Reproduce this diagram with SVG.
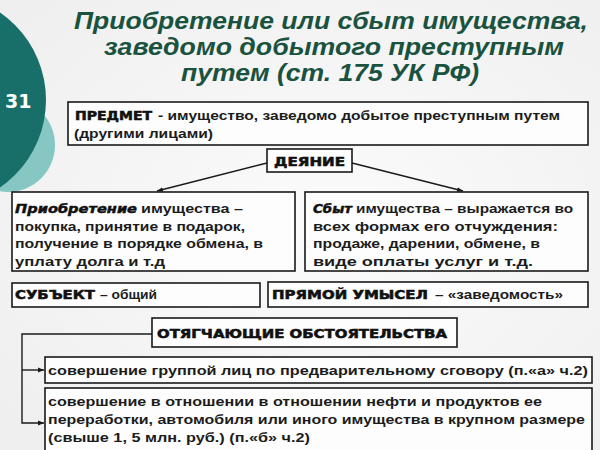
<svg xmlns="http://www.w3.org/2000/svg" width="600" height="450" viewBox="0 0 600 450">
<defs>
<radialGradient id="bg" cx="0.55" cy="0.5" r="0.7">
<stop offset="0" stop-color="#fbfbfb"/>
<stop offset="1" stop-color="#efefef"/>
</radialGradient>
<marker id="arr" viewBox="0 0 10 10" refX="10" refY="5" markerWidth="6" markerHeight="6" markerUnits="userSpaceOnUse" orient="auto">
<path d="M0,1 L10,5 L0,9 z" fill="#1a1a1a"/>
</marker>
<style>
.box{fill:#fdfdfd;stroke:#1a1a1a;stroke-width:1.6}
.t{font-family:"Liberation Sans",Arial,sans-serif;font-size:13px;font-weight:bold;fill:#1c1c1c}
.h{font-family:"DejaVu Sans",Verdana,sans-serif;font-size:13px;font-weight:bold;fill:#111;stroke:#111;stroke-width:0.6}
.hi{font-family:"DejaVu Sans",Verdana,sans-serif;font-size:13px;font-weight:bold;font-style:italic;fill:#111;stroke:#111;stroke-width:0.5}
.title{font-family:"Liberation Sans",Arial,sans-serif;font-size:23px;font-weight:bold;font-style:italic;fill:#1a5240}
.conn{stroke:#1a1a1a;stroke-width:1.4;fill:none}
</style>
</defs>
<rect x="0" y="0" width="600" height="450" fill="url(#bg)"/>
<g id="decor">
<circle cx="8" cy="145" r="47" fill="#86c7c3"/>
<circle cx="-60" cy="100" r="106" fill="#186f69"/>
<text x="5" y="108" font-family="DejaVu Sans,sans-serif" font-size="19" font-weight="bold" fill="#ffffff">31</text>
</g>
<g id="title">
<text class="title" x="331" y="29" text-anchor="middle" textLength="514" lengthAdjust="spacingAndGlyphs">Приобретение или сбыт имущества,</text>
<text class="title" x="334" y="55" text-anchor="middle" textLength="460" lengthAdjust="spacingAndGlyphs">заведомо добытого преступным</text>
<text class="title" x="330" y="81" text-anchor="middle" textLength="298" lengthAdjust="spacingAndGlyphs">путем (ст. 175 УК РФ)</text>
</g>
<g id="connectors">
<path class="conn" d="M267,163 L157,191" marker-end="url(#arr)"/>
<path class="conn" d="M352,163 L463,191" marker-end="url(#arr)"/>
<path class="conn" d="M152,334 H22 V423 H44" marker-end="url(#arr)"/>
<path class="conn" d="M22,370 H44" marker-end="url(#arr)"/>
</g>
<g id="predmet">
<rect class="box" x="68" y="102" width="520" height="43"/>
<text class="h" x="75" y="120" textLength="77" lengthAdjust="spacingAndGlyphs">ПРЕДМЕТ</text>
<text class="t" x="158" y="120" textLength="402" lengthAdjust="spacingAndGlyphs">- имущество, заведомо добытое преступным путем</text>
<text class="t" x="74" y="138" textLength="139" lengthAdjust="spacingAndGlyphs">(другими лицами)</text>
</g>
<g id="deyanie">
<rect class="box" x="267" y="149" width="85" height="23"/>
<text class="h" x="274" y="166" textLength="71" lengthAdjust="spacingAndGlyphs">ДЕЯНИЕ</text>
</g>
<g id="priobretenie">
<rect class="box" x="12" y="192" width="283" height="79"/>
<text class="hi" x="15" y="213" textLength="122" lengthAdjust="spacingAndGlyphs">Приобретение</text>
<text class="t" x="141" y="213" textLength="102" lengthAdjust="spacingAndGlyphs">имущества –</text>
<text class="t" x="15" y="231" textLength="230" lengthAdjust="spacingAndGlyphs">покупка, принятие в подарок,</text>
<text class="t" x="15" y="248" textLength="248" lengthAdjust="spacingAndGlyphs">получение в порядке обмена, в</text>
<text class="t" x="15" y="266" textLength="150" lengthAdjust="spacingAndGlyphs">уплату долга и т.д</text>
</g>
<g id="sbyt">
<rect class="box" x="305" y="192" width="283" height="79"/>
<text class="hi" x="313" y="213" textLength="39" lengthAdjust="spacingAndGlyphs">Сбыт</text>
<text class="t" x="356" y="213" textLength="217" lengthAdjust="spacingAndGlyphs">имущества – выражается во</text>
<text class="t" x="313" y="231" textLength="245" lengthAdjust="spacingAndGlyphs">всех формах его отчуждения:</text>
<text class="t" x="313" y="248" textLength="227" lengthAdjust="spacingAndGlyphs">продаже, дарении, обмене, в</text>
<text class="t" x="313" y="266" textLength="220" lengthAdjust="spacingAndGlyphs">виде оплаты услуг и т.д.</text>
</g>
<g id="subekt">
<rect class="box" x="12" y="283" width="248" height="24"/>
<text class="h" x="15" y="299" textLength="80" lengthAdjust="spacingAndGlyphs">СУБЪЕКТ</text>
<text class="t" x="100" y="299" textLength="57" lengthAdjust="spacingAndGlyphs">– общий</text>
</g>
<g id="umysel">
<rect class="box" x="268" y="282" width="320" height="25"/>
<text class="h" x="272" y="299" textLength="156" lengthAdjust="spacingAndGlyphs">ПРЯМОЙ УМЫСЕЛ</text>
<text class="t" x="435" y="299" textLength="128" lengthAdjust="spacingAndGlyphs">– «заведомость»</text>
</g>
<g id="otyag">
<rect class="box" x="152" y="318" width="305" height="29"/>
<text class="h" x="157" y="338" textLength="290" lengthAdjust="spacingAndGlyphs">ОТЯГЧАЮЩИЕ ОБСТОЯТЕЛЬСТВА</text>
</g>
<g id="group">
<rect class="box" x="45" y="357" width="547" height="26"/>
<text class="t" x="48" y="375" textLength="540" lengthAdjust="spacingAndGlyphs">совершение группой лиц по предварительному сговору (п.«а» ч.2)</text>
</g>
<g id="krupny">
<rect class="box" x="45" y="388" width="547" height="70"/>
<text class="t" x="48" y="406" textLength="494" lengthAdjust="spacingAndGlyphs">совершение в отношении в отношении нефти и продуктов ее</text>
<text class="t" x="48" y="424" textLength="537" lengthAdjust="spacingAndGlyphs">переработки, автомобиля или иного имущества в крупном размере</text>
<text class="t" x="48" y="442" textLength="262" lengthAdjust="spacingAndGlyphs">(свыше 1, 5 млн. руб.) (п.«б» ч.2)</text>
</g>
</svg>
